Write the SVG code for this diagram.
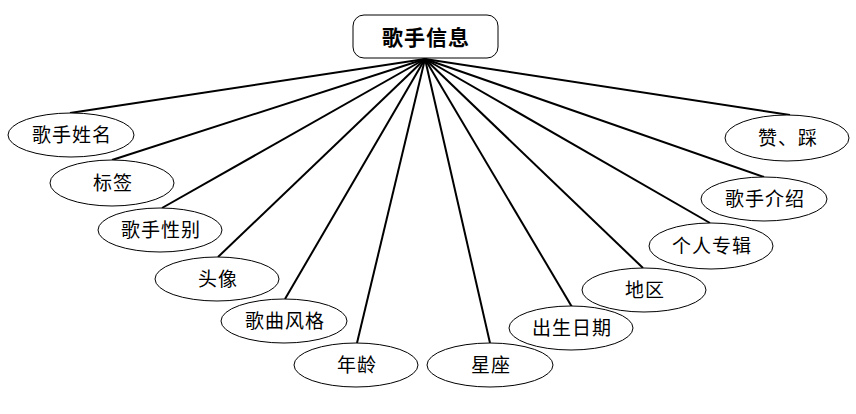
<svg xmlns="http://www.w3.org/2000/svg" width="856" height="414" viewBox="0 0 856 414">
<style>
.e{fill:#fff;stroke:#000;stroke-width:1}
.t{font-family:"Liberation Serif","Noto Sans CJK SC",serif;font-size:19px;fill:#000;text-anchor:middle;dominant-baseline:central;letter-spacing:1px}
.h{font-family:"Liberation Sans","Noto Sans CJK SC",sans-serif;font-size:21px;font-weight:bold;fill:#000;text-anchor:middle;dominant-baseline:central;letter-spacing:1px}
.c line{stroke:#000;stroke-width:2}
</style>
<rect width="856" height="414" fill="#fff"/>
<g class="c" id="connectors">
<line x1="425" y1="59" x2="70" y2="113"/>
<line x1="425" y1="59" x2="112" y2="160"/>
<line x1="425" y1="59" x2="162" y2="208"/>
<line x1="425" y1="59" x2="218" y2="257"/>
<line x1="425" y1="59" x2="285" y2="299"/>
<line x1="425" y1="59" x2="357" y2="343"/>
<line x1="425" y1="59" x2="490" y2="343"/>
<line x1="425" y1="59" x2="572" y2="307"/>
<line x1="425" y1="59" x2="643" y2="268"/>
<line x1="425" y1="59" x2="710" y2="223"/>
<line x1="425" y1="59" x2="764" y2="177"/>
<line x1="425" y1="59" x2="790" y2="115"/>
</g>
<g id="root"><rect x="353" y="15" width="145" height="43" rx="11" class="e"/><text class="h" x="426" y="37">歌手信息</text></g>
<g id="n1"><ellipse class="e" cx="71" cy="135" rx="63" ry="22"/><text class="t" x="72" y="135">歌手姓名</text></g>
<g id="n2"><ellipse class="e" cx="112" cy="183" rx="62" ry="23"/><text class="t" x="113" y="183">标签</text></g>
<g id="n3"><ellipse class="e" cx="160" cy="230" rx="62" ry="22"/><text class="t" x="161" y="230">歌手性别</text></g>
<g id="n4"><ellipse class="e" cx="217" cy="279" rx="62" ry="22"/><text class="t" x="218" y="279">头像</text></g>
<g id="n5"><ellipse class="e" cx="284" cy="321" rx="63" ry="22"/><text class="t" x="285" y="321">歌曲风格</text></g>
<g id="n6"><ellipse class="e" cx="356" cy="365" rx="62" ry="22"/><text class="t" x="357" y="365">年龄</text></g>
<g id="n7"><ellipse class="e" cx="490" cy="365" rx="63" ry="22"/><text class="t" x="491" y="365">星座</text></g>
<g id="n8"><ellipse class="e" cx="571" cy="328" rx="62" ry="22"/><text class="t" x="572" y="328">出生日期</text></g>
<g id="n9"><ellipse class="e" cx="644" cy="290" rx="62" ry="22"/><text class="t" x="645" y="290">地区</text></g>
<g id="n10"><ellipse class="e" cx="711" cy="246" rx="62" ry="23"/><text class="t" x="712" y="246">个人专辑</text></g>
<g id="n11"><ellipse class="e" cx="764" cy="199" rx="63" ry="22"/><text class="t" x="765" y="199">歌手介绍</text></g>
<g id="n12"><ellipse class="e" cx="787" cy="138" rx="62" ry="23"/><text class="t" x="788" y="138">赞、踩</text></g>
</svg>
